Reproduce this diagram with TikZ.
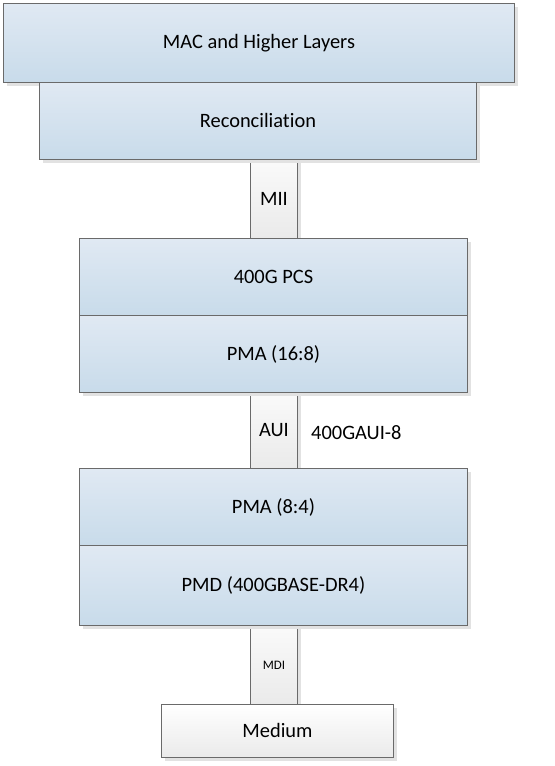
\documentclass[tikz,border=0pt]{standalone}
\usepackage{fontspec}
\setmainfont{Carlito}[Ligatures=NoCommon]
\usepackage{tikz}
\usetikzlibrary{shadows}
\usepackage{xcolor}
\definecolor{layerTop}{HTML}{E0E9F3}
\definecolor{layerBottom}{HTML}{C8DBEA}
\definecolor{linkTop}{HTML}{FAFAFA}
\definecolor{linkBottom}{HTML}{EAEAEA}
\definecolor{edgeGray}{HTML}{6A6A6A}
\definecolor{shadowGray}{HTML}{E2E2E2}

\tikzset{
    boxbase/.style={draw=edgeGray, line width=0.9bp, inner sep=0pt,
        anchor=north west, text=black,
        drop shadow={shadow xshift=4bp, shadow yshift=-4bp,
            fill=shadowGray, opacity=1}},
    layer/.style={boxbase, top color=layerTop, bottom color=layerBottom,
        font=\fontsize{20.5}{23}\selectfont},
    link/.style={boxbase, top color=linkTop, bottom color=linkBottom,
        minimum width=47bp, font=\fontsize{20.5}{23}\selectfont},
    medium/.style={boxbase, top color=white, bottom color=linkBottom,
        font=\fontsize{20.5}{23}\selectfont}
}

\begin{document}
\begin{tikzpicture}[x=1bp,y=-1bp]
    \useasboundingbox (0,0) rectangle (555,766);
    \def\stackLeft{79}
    \def\stackWidth{388bp}
    % interfaces between the layers
    \node[link, minimum height=79bp] (mii) at (250,159) {MII};
    \node[link, minimum height=76bp] (aui) at (250,392) {AUI};
    \node[link, minimum height=79bp, font=\fontsize{13}{15}\selectfont]
        (mdi) at (250,625) {MDI};
    % layers
    \node[layer, minimum width=511bp, minimum height=79bp] (mac) at (3,3)
        {MAC and Higher Layers};
    \node[layer, minimum width=437bp, minimum height=77bp] (recon) at (39,82)
        {Reconciliation};
    \node[layer, minimum width=\stackWidth, minimum height=77bp] (pcs)
        at (\stackLeft,238) {400G PCS};
    \node[layer, minimum width=\stackWidth, minimum height=77bp] (pmaHigh)
        at (\stackLeft,315) {PMA (16:8)};
    \node[layer, minimum width=\stackWidth, minimum height=77bp] (pmaLow)
        at (\stackLeft,468) {PMA (8:4)};
    \node[layer, minimum width=\stackWidth, minimum height=80bp] (pmd)
        at (\stackLeft,545) {PMD (400GBASE-DR4)};
    \node[medium, minimum width=232bp, minimum height=53bp] (med) at (161,704)
        {Medium};
    \node[anchor=west, inner sep=0pt, font=\fontsize{20.5}{23}\selectfont]
        (auiName) at (311,433) {400GAUI-8};
\end{tikzpicture}
\end{document}
